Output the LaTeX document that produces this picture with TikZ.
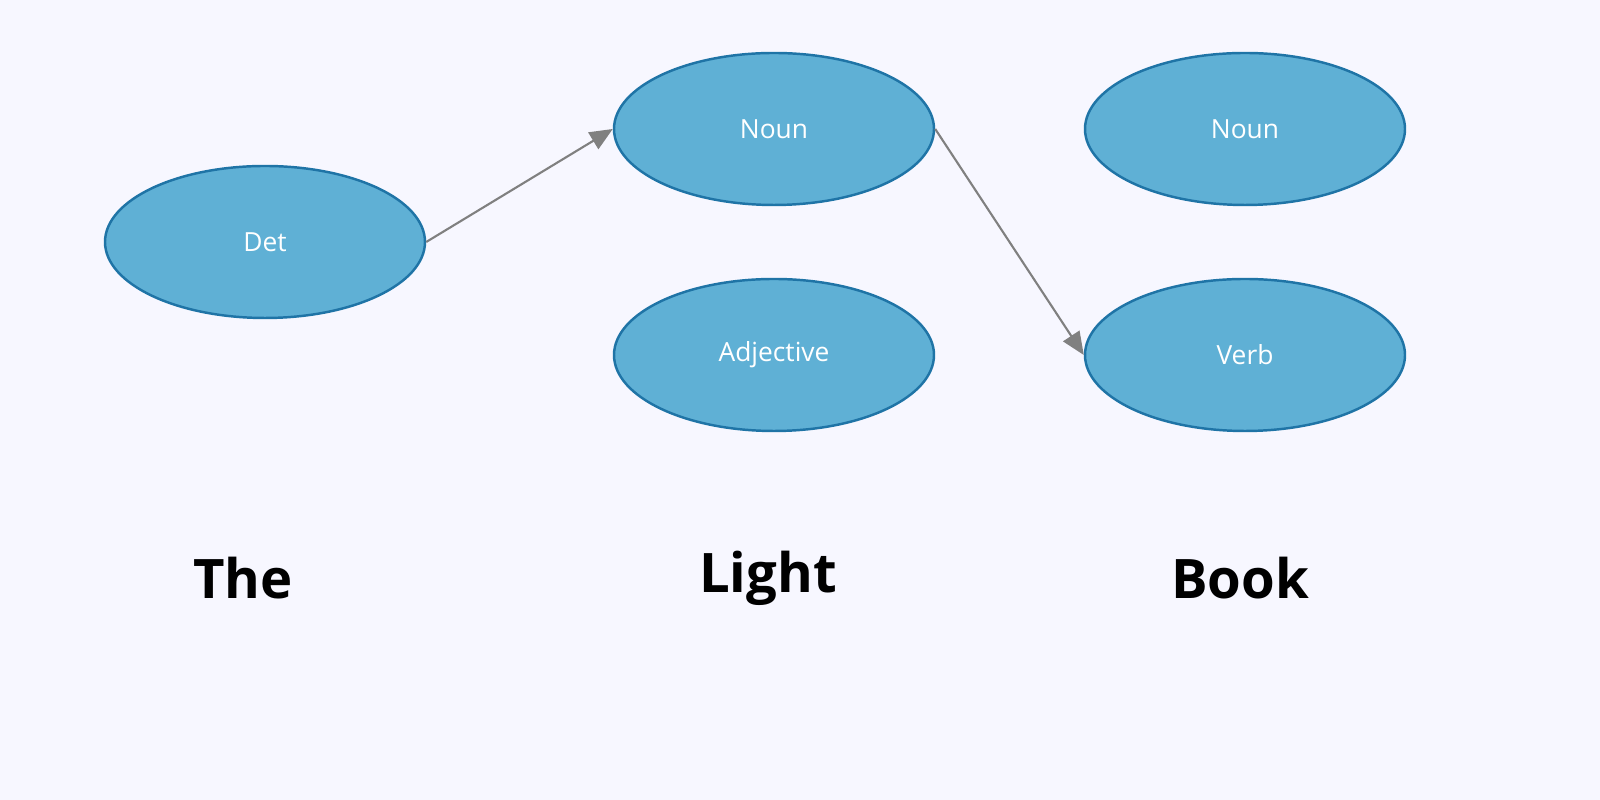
\documentclass[tikz,border=0pt]{standalone}
\usepackage{fontspec}
\setmainfont{Open Sans}
\usetikzlibrary{arrows.meta,shapes.geometric}
\definecolor{tagfill}{HTML}{5FB0D5}
\definecolor{tagdraw}{HTML}{1F74A6}
\begin{document}
\begin{tikzpicture}[tag/.style={ellipse,line width=1.4pt,draw=tagdraw,fill=tagfill,minimum width=6.4cm,minimum height=3.04cm,text=white,font=\fontsize{15}{18}\selectfont},
	word/.style={font=\fontsize{31}{36}\selectfont\bfseries},
	link/.style={-{Triangle[length=13pt,width=11pt]},line width=1.2pt,gray}]
	\fill[white!97!blue] (0,0) rectangle (32,16);
	\node[tag] (Det) at (5.3,11.16) {Det};
	\node[tag] (NounL) at (15.48,13.42) {Noun};
	\node[tag] (Adj) at (15.48,8.9) {Adjective};
	\node[tag] (NounB) at (24.9,13.42) {Noun};
	\node[tag] (Verb) at (24.9,8.9) {Verb};
	\node[word] (The) at (4.86,4.44) {The};
	\node[word] (Light) at (15.36,4.44) {Light};
	\node[word] (Book) at (24.8,4.44) {Book};
	
	\draw[link] (Det.east) -- (NounL.west);
	\draw[link] (NounL.east) -- (Verb.west);
\end{tikzpicture}
\end{document}
